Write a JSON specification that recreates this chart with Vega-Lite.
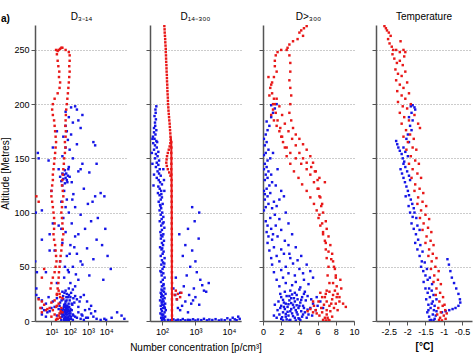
{
"$schema": "https://vega.github.io/schema/vega-lite/v6.json",
"padding": {"left": 0, "top": 12, "right": 2, "bottom": 2},
"bounds": "flush",
"spacing": 22,
"title": {"text": "a)", "anchor": "start", "frame": "bounds", "fontSize": 10, "fontWeight": "bold", "font": "Liberation Sans", "offset": -12},
"config": {
  "view": {"stroke": null},
  "font": "Liberation Sans",
  "axis": {"labelFont": "Liberation Sans", "titleFont": "Liberation Sans", "labelFontSize": 9, "titleFontSize": 10, "titleFontWeight": "normal", "domainColor": "#555", "domainWidth": 1.5, "tickColor": "#555", "tickSize": 4, "labelColor": "#000", "titleColor": "#000", "labelPadding": 2, "labelOverlap": false, "labelSeparation": 0, "gridDash": [1, 2], "gridColor": "#999"},
  "title": {"fontSize": 10, "fontWeight": "normal", "font": "Liberation Sans", "offset": 3},
  "square": {"size": 6, "opacity": 1, "filled": true}
},
"datasets": {
"b1": [{"x":50,"y":2},{"x":60,"y":4},{"x":45,"y":6},{"x":80,"y":3},{"x":70,"y":8},{"x":35,"y":1},{"x":100,"y":5},{"x":55,"y":10},{"x":65,"y":12},{"x":90,"y":7},{"x":120,"y":2},{"x":40,"y":9},{"x":75,"y":14},{"x":30,"y":3},{"x":110,"y":11},{"x":150,"y":6},{"x":200,"y":4},{"x":300,"y":8},{"x":500,"y":5},{"x":800,"y":3},{"x":1500,"y":7},{"x":3000,"y":2},{"x":40,"y":6},{"x":50,"y":15},{"x":60,"y":18},{"x":45,"y":20},{"x":80,"y":22},{"x":30,"y":17},{"x":70,"y":25},{"x":100,"y":19},{"x":130,"y":16},{"x":200,"y":23},{"x":20,"y":21},{"x":15,"y":13},{"x":10,"y":12},{"x":8,"y":9},{"x":5,"y":16},{"x":3,"y":19},{"x":2,"y":21},{"x":1.5,"y":24},{"x":25,"y":11},{"x":20,"y":5},{"x":60,"y":1},{"x":70,"y":2},{"x":90,"y":0.5},{"x":150,"y":1},{"x":250,"y":3},{"x":400,"y":2},{"x":600,"y":1},{"x":1000,"y":3},{"x":2000,"y":4},{"x":5000,"y":1},{"x":8000,"y":2},{"x":60,"y":7},{"x":85,"y":9},{"x":35,"y":10},{"x":95,"y":13},{"x":140,"y":15},{"x":180,"y":17},{"x":250,"y":20},{"x":400,"y":22},{"x":600,"y":24},{"x":900,"y":18},{"x":1500,"y":14},{"x":120,"y":26},{"x":60,"y":28},{"x":90,"y":30},{"x":40,"y":27},{"x":150,"y":29},{"x":200,"y":32},{"x":6,"y":8},{"x":4,"y":10},{"x":3,"y":12},{"x":3,"y":6},{"x":5,"y":4},{"x":10000,"y":1},{"x":20000,"y":3},{"x":40000,"y":8},{"x":70000,"y":5},{"x":100000,"y":2},{"x":55,"y":9},{"x":45,"y":11},{"x":55,"y":13},{"x":65,"y":14},{"x":65,"y":3},{"x":75,"y":6},{"x":85,"y":4},{"x":110,"y":7},{"x":130,"y":10},{"x":160,"y":5},{"x":48,"y":5},{"x":58,"y":8},{"x":68,"y":10},{"x":78,"y":12},{"x":52,"y":3},{"x":62,"y":6},{"x":72,"y":1},{"x":82,"y":10},{"x":42,"y":8},{"x":38,"y":4},{"x":95,"y":2},{"x":105,"y":9},{"x":58,"y":16},{"x":68,"y":19},{"x":48,"y":13},{"x":88,"y":16},{"x":78,"y":0.5},{"x":50,"y":0.5},{"x":115,"y":4},{"x":33,"y":7},{"x":28,"y":14},{"x":36,"y":19},{"x":44,"y":23},{"x":52,"y":26},{"x":66,"y":22},{"x":92,"y":24},{"x":300,"y":13},{"x":350,"y":18},{"x":700,"y":10},{"x":450,"y":6},{"x":1200,"y":11},{"x":2500,"y":9},{"x":12,"y":18},{"x":7,"y":22},{"x":110,"y":22},{"x":160,"y":21},
{"x":20,"y":35},{"x":300,"y":38},{"x":50,"y":40},{"x":1200,"y":42},{"x":5,"y":45},{"x":80,"y":47},{"x":150,"y":50},{"x":500,"y":52},{"x":30,"y":55},{"x":2000,"y":57},{"x":70,"y":60},{"x":250,"y":62},{"x":15,"y":65},{"x":900,"y":67},{"x":110,"y":70},{"x":40,"y":72},{"x":3000,"y":75},{"x":200,"y":78},{"x":8,"y":80},{"x":60,"y":82},{"x":700,"y":85},{"x":25,"y":88},{"x":130,"y":90},{"x":1500,"y":92},{"x":45,"y":95},{"x":400,"y":98},{"x":90,"y":100},{"x":3,"y":102},{"x":200,"y":105},{"x":1000,"y":108},{"x":35,"y":110},{"x":70,"y":112},{"x":2500,"y":115},{"x":160,"y":117},{"x":5000,"y":118},{"x":50,"y":120},{"x":600,"y":122},{"x":40,"y":125},{"x":55,"y":127},{"x":35,"y":129},{"x":70,"y":130},{"x":45,"y":131},{"x":60,"y":132},{"x":30,"y":133},{"x":80,"y":134},{"x":50,"y":135},{"x":65,"y":136},{"x":1200,"y":137},{"x":300,"y":138},{"x":25,"y":140},{"x":90,"y":142},{"x":500,"y":145},{"x":7,"y":148},{"x":150,"y":150},{"x":40,"y":152},{"x":1.8,"y":155},{"x":100,"y":158},{"x":60,"y":160},{"x":250,"y":163},{"x":2000,"y":165},{"x":80,"y":167},{"x":45,"y":170},{"x":120,"y":172},{"x":70,"y":175},{"x":400,"y":178},{"x":60,"y":180},{"x":150,"y":183},{"x":300,"y":185},{"x":90,"y":188},{"x":500,"y":190},{"x":60,"y":193},{"x":250,"y":195},{"x":120,"y":197},{"x":200,"y":198},{"x":2500,"y":162},{"x":3000,"y":145},{"x":9000,"y":85},{"x":12000,"y":60},{"x":18000,"y":48},{"x":7000,"y":38},{"x":8000,"y":115},{"x":1.5,"y":30},{"x":1.3,"y":55},{"x":3,"y":75},{"x":1.4,"y":100},{"x":2,"y":150},{"x":1.6,"y":45},{"x":12,"y":90},{"x":8,"y":65},{"x":10,"y":120},{"x":12,"y":160},{"x":20,"y":175},{"x":400,"y":140},{"x":1800,"y":110},{"x":3500,"y":95},{"x":6000,"y":70},{"x":400,"y":55},{"x":220,"y":43},{"x":300,"y":80},{"x":130,"y":128},{"x":100,"y":133},{"x":40,"y":136},{"x":55,"y":139},{"x":75,"y":128},{"x":85,"y":140},{"x":100,"y":62},{"x":180,"y":68},{"x":60,"y":105},{"x":140,"y":112},{"x":35,"y":85},{"x":90,"y":45},{"x":110,"y":35},{"x":55,"y":50}],
"r1": [{"x":18,"y":250},{"x":20,"y":246},{"x":22,"y":240},{"x":24,"y":235},{"x":27,"y":230},{"x":26,"y":225},{"x":30,"y":220},{"x":28,"y":215},{"x":22,"y":210},{"x":15,"y":205},{"x":12,"y":200},{"x":11,"y":195},{"x":12,"y":190},{"x":14,"y":185},{"x":15,"y":180},{"x":16,"y":175},{"x":17,"y":170},{"x":18,"y":165},{"x":17,"y":160},{"x":16,"y":155},{"x":15,"y":150},{"x":14,"y":145},{"x":13,"y":140},{"x":12,"y":135},{"x":12,"y":130},{"x":11,"y":125},{"x":10,"y":120},{"x":10,"y":115},{"x":11,"y":110},{"x":12,"y":105},{"x":13,"y":100},{"x":14,"y":95},{"x":15,"y":90},{"x":14,"y":85},{"x":13,"y":80},{"x":14,"y":75},{"x":16,"y":70},{"x":17,"y":65},{"x":18,"y":60},{"x":19,"y":55},{"x":17,"y":50},{"x":15,"y":45},{"x":12,"y":40},{"x":10,"y":35},{"x":9,"y":30},
{"x":40,"y":252},{"x":60,"y":250},{"x":90,"y":248},{"x":100,"y":245},{"x":100,"y":240},{"x":95,"y":235},{"x":100,"y":230},{"x":95,"y":225},{"x":90,"y":220},{"x":85,"y":215},{"x":80,"y":210},{"x":75,"y":205},{"x":70,"y":200},{"x":65,"y":195},{"x":62,"y":190},{"x":60,"y":185},{"x":58,"y":180},{"x":62,"y":175},{"x":60,"y":170},{"x":55,"y":165},{"x":58,"y":160},{"x":55,"y":155},{"x":50,"y":150},{"x":48,"y":145},{"x":45,"y":140},{"x":42,"y":135},{"x":40,"y":130},{"x":38,"y":125},{"x":42,"y":120},{"x":45,"y":115},{"x":40,"y":110},{"x":38,"y":105},{"x":35,"y":100},{"x":38,"y":95},{"x":40,"y":90},{"x":42,"y":85},{"x":45,"y":80},{"x":40,"y":75},{"x":38,"y":70},{"x":35,"y":65},{"x":32,"y":60},{"x":30,"y":55},{"x":28,"y":50},{"x":26,"y":45},{"x":25,"y":40},{"x":24,"y":35},{"x":22,"y":30},{"x":20,"y":25},{"x":25,"y":250},{"x":30,"y":251},{"x":35,"y":252},{"x":22,"y":249},
{"x":2,"y":20},{"x":3,"y":18},{"x":4,"y":15},{"x":2.5,"y":12},{"x":5,"y":10},{"x":3,"y":8},{"x":8,"y":12},{"x":12,"y":10},{"x":20,"y":14},{"x":15,"y":6},{"x":25,"y":5},{"x":30,"y":3},{"x":20,"y":2},{"x":40,"y":8},{"x":35,"y":12},{"x":25,"y":16},{"x":30,"y":22},{"x":28,"y":25},{"x":25,"y":28},{"x":10,"y":4},{"x":18,"y":1},{"x":22,"y":2},{"x":28,"y":7},{"x":32,"y":9},{"x":6,"y":11},{"x":18,"y":13},{"x":10,"y":17},{"x":15,"y":19},{"x":40,"y":21},{"x":20,"y":24},{"x":1.5,"y":115},{"x":2,"y":110},{"x":3,"y":40},{"x":4,"y":48}],
"b2": [{"x":100,"y":1},{"x":115,"y":2},{"x":95,"y":3},{"x":125,"y":4},{"x":105,"y":5},{"x":110,"y":6},{"x":90,"y":7},{"x":120,"y":8},{"x":100,"y":9},{"x":130,"y":10},{"x":95,"y":11},{"x":108,"y":12},{"x":118,"y":13},{"x":92,"y":14},{"x":102,"y":15},{"x":125,"y":16},{"x":98,"y":17},{"x":112,"y":18},{"x":88,"y":19},{"x":105,"y":20},{"x":120,"y":21},{"x":95,"y":22},{"x":110,"y":23},{"x":100,"y":24},{"x":128,"y":25},{"x":92,"y":26},{"x":115,"y":27},{"x":104,"y":28},{"x":97,"y":29},{"x":118,"y":30},{"x":100,"y":32},{"x":112,"y":34},{"x":94,"y":36},{"x":106,"y":38},{"x":120,"y":40},{"x":98,"y":42},{"x":110,"y":44},{"x":90,"y":46},{"x":104,"y":48},{"x":115,"y":50},{"x":96,"y":52},{"x":108,"y":54},{"x":100,"y":56},{"x":120,"y":58},{"x":92,"y":60},{"x":105,"y":62},{"x":112,"y":64},{"x":97,"y":66},{"x":88,"y":68},{"x":108,"y":70},{"x":100,"y":72},{"x":115,"y":74},{"x":93,"y":76},{"x":103,"y":78},{"x":110,"y":80},{"x":90,"y":82},{"x":100,"y":84},{"x":118,"y":86},{"x":95,"y":88},{"x":105,"y":90},{"x":86,"y":92},{"x":98,"y":94},{"x":110,"y":96},{"x":92,"y":98},{"x":102,"y":100},{"x":85,"y":102},{"x":95,"y":104},{"x":90,"y":106},{"x":105,"y":108},{"x":80,"y":110},{"x":92,"y":112},{"x":100,"y":114},{"x":85,"y":116},{"x":76,"y":118},{"x":95,"y":120},{"x":86,"y":122},{"x":78,"y":124},{"x":100,"y":126},{"x":88,"y":128},{"x":80,"y":130},{"x":70,"y":132},{"x":92,"y":134},{"x":82,"y":136},{"x":74,"y":138},{"x":86,"y":140},{"x":66,"y":142},{"x":78,"y":144},{"x":70,"y":146},{"x":82,"y":148},{"x":62,"y":150},{"x":74,"y":152},{"x":66,"y":154},{"x":78,"y":156},{"x":58,"y":158},{"x":70,"y":160},{"x":62,"y":162},{"x":55,"y":164},{"x":68,"y":166},{"x":60,"y":168},{"x":54,"y":170},{"x":64,"y":172},{"x":58,"y":174},{"x":68,"y":176},{"x":58,"y":178},{"x":63,"y":180},{"x":62,"y":183},{"x":66,"y":186},{"x":60,"y":189},{"x":65,"y":192},{"x":64,"y":195},{"x":68,"y":198},{"x":56,"y":125},{"x":58,"y":135},{"x":52,"y":145},{"x":50,"y":155},{"x":72,"y":165},{"x":52,"y":168},{"x":110,"y":140},{"x":115,"y":130},{"x":118,"y":120},{"x":108,"y":3},{"x":98,"y":6},{"x":122,"y":12},{"x":112,"y":15},{"x":102,"y":18},{"x":96,"y":25},{"x":110,"y":33},{"x":96,"y":45},{"x":118,"y":53},{"x":102,"y":67},{"x":94,"y":79},{"x":112,"y":91},{"x":88,"y":107},{"x":96,"y":117},
{"x":120,"y":0.5},{"x":150,"y":1},{"x":180,"y":0.8},{"x":220,"y":1.5},{"x":260,"y":0.5},{"x":300,"y":1.2},{"x":360,"y":0.7},{"x":420,"y":1.8},{"x":500,"y":0.6},{"x":600,"y":1.1},{"x":700,"y":0.9},{"x":850,"y":1.6},{"x":1000,"y":0.5},{"x":1200,"y":1.3},{"x":1500,"y":0.8},{"x":1800,"y":2},{"x":2200,"y":0.6},{"x":2600,"y":1.4},{"x":3200,"y":0.9},{"x":4000,"y":1.7},{"x":5000,"y":0.5},{"x":6000,"y":1.2},{"x":7500,"y":0.7},{"x":9000,"y":2.5},{"x":11000,"y":1},{"x":13000,"y":3},{"x":15000,"y":1.5},{"x":17000,"y":0.8},{"x":19000,"y":4},{"x":21000,"y":2},
{"x":800,"y":105},{"x":1300,"y":100},{"x":950,"y":92},{"x":600,"y":85},{"x":330,"y":80},{"x":1250,"y":76},{"x":500,"y":70},{"x":800,"y":65},{"x":420,"y":60},{"x":1000,"y":55},{"x":700,"y":50},{"x":1100,"y":45},{"x":550,"y":42},{"x":1400,"y":38},{"x":2500,"y":35},{"x":450,"y":32},{"x":900,"y":30},{"x":1800,"y":28},{"x":350,"y":26},{"x":650,"y":24},{"x":1000,"y":22},{"x":280,"y":20},{"x":500,"y":18},{"x":750,"y":16},{"x":400,"y":14},{"x":300,"y":12},{"x":250,"y":24},{"x":220,"y":30},{"x":260,"y":40},{"x":350,"y":10},{"x":1300,"y":15},{"x":600,"y":8},{"x":1600,"y":33},{"x":2100,"y":27},{"x":850,"y":19}],
"r2": [{"x":118,"y":272},{"x":120,"y":269},{"x":121,"y":266},{"x":123,"y":263},{"x":125,"y":260},{"x":126,"y":257},{"x":128,"y":254},{"x":130,"y":251},{"x":130,"y":248},{"x":132,"y":245},{"x":133,"y":242},{"x":134,"y":239},{"x":136,"y":236},{"x":137,"y":233},{"x":138,"y":230},{"x":140,"y":227},{"x":141,"y":224},{"x":142,"y":221},{"x":144,"y":218},{"x":145,"y":215},{"x":146,"y":212},{"x":148,"y":209},{"x":150,"y":206},{"x":151,"y":203},{"x":152,"y":200},{"x":155,"y":197},{"x":157,"y":194},{"x":160,"y":191},{"x":163,"y":188},{"x":166,"y":185},{"x":170,"y":182},{"x":172,"y":179},{"x":175,"y":176},{"x":178,"y":173},{"x":180,"y":170},{"x":182,"y":167},{"x":178,"y":164},{"x":170,"y":161},{"x":160,"y":158},{"x":150,"y":155},{"x":142,"y":152},{"x":138,"y":149},{"x":135,"y":146},{"x":140,"y":143},{"x":150,"y":140},{"x":165,"y":137},{"x":180,"y":134},
{"x":190,"y":165},{"x":192,"y":160},{"x":190,"y":155},{"x":193,"y":150},{"x":191,"y":145},{"x":190,"y":140},{"x":192,"y":135},{"x":194,"y":130},{"x":193,"y":125},{"x":195,"y":120},{"x":194,"y":115},{"x":196,"y":110},{"x":195,"y":105},{"x":196,"y":100},{"x":197,"y":95},{"x":196,"y":90},{"x":197,"y":85},{"x":198,"y":80},{"x":197,"y":75},{"x":198,"y":70},{"x":198,"y":65},{"x":197,"y":60},{"x":199,"y":55},{"x":198,"y":50},{"x":199,"y":45},{"x":198,"y":40},{"x":200,"y":35},{"x":199,"y":30},{"x":200,"y":25},{"x":199,"y":20},{"x":200,"y":15},{"x":199,"y":10},{"x":200,"y":5},{"x":200,"y":0},{"x":260,"y":28},{"x":300,"y":25},{"x":350,"y":22},{"x":380,"y":26},{"x":240,"y":24},{"x":280,"y":20}],
"r2l": [{"x":200,"y":0},{"x":199,"y":30},{"x":197,"y":60},{"x":196,"y":100},{"x":194,"y":130},{"x":190,"y":165},{"x":182,"y":170}],
"b3": [{"x":2,"y":2},{"x":2.5,"y":4},{"x":3,"y":1},{"x":3.5,"y":3},{"x":4,"y":2},{"x":1.8,"y":6},{"x":2.2,"y":8},{"x":2.8,"y":5},{"x":3.2,"y":7},{"x":3.8,"y":6},{"x":4.3,"y":4},{"x":4.8,"y":3},{"x":1.6,"y":10},{"x":2.4,"y":11},{"x":3,"y":9},{"x":3.6,"y":10},{"x":4.2,"y":9},{"x":4.6,"y":8},{"x":5,"y":6},{"x":5.4,"y":5},{"x":2,"y":14},{"x":2.7,"y":13},{"x":3.3,"y":15},{"x":3.9,"y":12},{"x":4.4,"y":14},{"x":5.2,"y":12},{"x":5.8,"y":10},{"x":1.7,"y":18},{"x":2.3,"y":17},{"x":2.9,"y":19},{"x":3.5,"y":18},{"x":4.1,"y":17},{"x":4.7,"y":19},{"x":5.5,"y":16},{"x":6,"y":14},{"x":2,"y":22},{"x":2.6,"y":23},{"x":3.1,"y":21},{"x":3.7,"y":24},{"x":4.3,"y":22},{"x":4.9,"y":23},{"x":2.4,"y":27},{"x":3,"y":28},{"x":3.5,"y":26},{"x":4,"y":29},{"x":4.6,"y":27},{"x":1.9,"y":25},{"x":2.2,"y":0.5},{"x":2.9,"y":0.5},{"x":3.6,"y":0.5},{"x":4.1,"y":0.8},{"x":1.5,"y":3},{"x":2.1,"y":3.5},{"x":3.4,"y":12.5},{"x":2.5,"y":16},{"x":3.8,"y":20},{"x":4.5,"y":25},{"x":5.3,"y":20},{"x":6.3,"y":18},{"x":6.6,"y":12},{"x":5.9,"y":22},{"x":1.3,"y":15},{"x":1.2,"y":5},{"x":4.9,"y":10.5},{"x":3.2,"y":24.5},{"x":2.7,"y":8.5},{"x":3.9,"y":2.5},{"x":4.5,"y":12},{"x":3.1,"y":16.5},{"x":2.2,"y":19.5},{"x":2.6,"y":1.5},{"x":3.3,"y":4.5},{"x":1.9,"y":12},{"x":2.5,"y":6.5},{"x":4.4,"y":6},{"x":3.7,"y":14.5},{"x":3.1,"y":11},{"x":2.8,"y":15.5},{"x":3.4,"y":21},{"x":4,"y":14},{"x":4.2,"y":19.5},{"x":2.3,"y":13},{"x":3.7,"y":8},{"x":2.9,"y":23},
{"x":1.8,"y":32},{"x":2.5,"y":35},{"x":3.2,"y":33},{"x":4.1,"y":31},{"x":5,"y":34},{"x":1.5,"y":38},{"x":2.2,"y":40},{"x":3.5,"y":42},{"x":4.5,"y":38},{"x":5.5,"y":40},{"x":1.2,"y":45},{"x":2,"y":47},{"x":2.8,"y":44},{"x":4,"y":48},{"x":1,"y":52},{"x":1.8,"y":55},{"x":2.5,"y":50},{"x":3.3,"y":53},{"x":4.8,"y":52},{"x":0.9,"y":58},{"x":1.5,"y":60},{"x":2.3,"y":62},{"x":3,"y":58},{"x":4.2,"y":60},{"x":0.7,"y":65},{"x":1.2,"y":68},{"x":2,"y":66},{"x":2.8,"y":70},{"x":3.6,"y":68},{"x":0.5,"y":72},{"x":1,"y":75},{"x":1.6,"y":78},{"x":2.4,"y":74},{"x":3.2,"y":80},{"x":0.4,"y":82},{"x":0.9,"y":85},{"x":1.4,"y":88},{"x":2,"y":84},{"x":2.8,"y":90},{"x":0.3,"y":92},{"x":0.8,"y":95},{"x":1.3,"y":98},{"x":1.8,"y":94},{"x":2.5,"y":100},{"x":0.5,"y":88},{"x":1.1,"y":80},{"x":0.6,"y":78},{"x":2.9,"y":62},{"x":3.8,"y":56},{"x":5.2,"y":46},{"x":4.4,"y":44},{"x":3.6,"y":36},
{"x":0.1,"y":102},{"x":0.3,"y":105},{"x":0.6,"y":108},{"x":1,"y":104},{"x":1.5,"y":106},{"x":0.2,"y":112},{"x":0.5,"y":115},{"x":0.8,"y":118},{"x":1.2,"y":110},{"x":1.8,"y":112},{"x":0.1,"y":120},{"x":0.4,"y":122},{"x":0.7,"y":125},{"x":1,"y":128},{"x":0.2,"y":130},{"x":0.5,"y":132},{"x":0.3,"y":135},{"x":0.6,"y":138},{"x":0.1,"y":140},{"x":0.4,"y":142},{"x":0.2,"y":145},{"x":0.5,"y":148},{"x":0.8,"y":150},{"x":0.1,"y":153},{"x":0.3,"y":155},{"x":0.6,"y":158},{"x":0.2,"y":162},{"x":0.4,"y":165},{"x":0.1,"y":168},{"x":0.3,"y":172},{"x":0.5,"y":176},{"x":0.7,"y":180},{"x":0.4,"y":184},{"x":0.9,"y":188},{"x":1.1,"y":192},{"x":1.3,"y":196},{"x":1.5,"y":200},{"x":0.9,"y":199},{"x":0.2,"y":117},{"x":0.9,"y":135},{"x":1.4,"y":125},{"x":2,"y":120},{"x":2.3,"y":115},{"x":1.6,"y":140},{"x":1.1,"y":155}],
"r3": [{"x":4.8,"y":272},{"x":4.5,"y":270},{"x":4.2,"y":268},{"x":4,"y":266},{"x":4.4,"y":263},{"x":3.8,"y":260},{"x":3.3,"y":258},{"x":2.9,"y":255},{"x":2.7,"y":252},{"x":2.6,"y":250},{"x":2,"y":250},{"x":1.6,"y":248},{"x":1.4,"y":245},{"x":1.3,"y":240},{"x":1.3,"y":235},{"x":1.5,"y":230},{"x":1.2,"y":225},{"x":1,"y":220},{"x":0.8,"y":215},{"x":1,"y":210},{"x":1.2,"y":205},{"x":1.3,"y":200},{"x":1.1,"y":195},{"x":0.9,"y":190},{"x":1.2,"y":185},{"x":1.5,"y":180},{"x":1.8,"y":175},{"x":2,"y":170},{"x":2.2,"y":165},{"x":2.6,"y":160},{"x":3,"y":155},{"x":3.6,"y":150},{"x":4.2,"y":145},{"x":4.8,"y":140},{"x":5.2,"y":135},{"x":5.6,"y":128},{"x":6,"y":122},{"x":6.2,"y":115},{"x":6.5,"y":108},{"x":6.6,"y":100},{"x":6.9,"y":92},{"x":7,"y":85},{"x":7.2,"y":78},{"x":7.4,"y":70},{"x":7.6,"y":62},{"x":7.7,"y":55},{"x":7.9,"y":48},{"x":8,"y":40},{"x":8.1,"y":32},{"x":8.2,"y":25},{"x":8.4,"y":18},
{"x":2.9,"y":245},{"x":3,"y":238},{"x":3,"y":230},{"x":2.9,"y":222},{"x":3,"y":215},{"x":3.1,"y":208},{"x":3,"y":200},{"x":2.9,"y":192},{"x":3.1,"y":185},{"x":3.3,"y":178},{"x":3.6,"y":172},{"x":4,"y":168},{"x":4.4,"y":163},{"x":4.8,"y":158},{"x":5.2,"y":152},{"x":5.5,"y":146},{"x":5.8,"y":138},{"x":6,"y":130},{"x":6.1,"y":122},{"x":6.3,"y":114},{"x":6.4,"y":106},{"x":6.2,"y":98},{"x":6.5,"y":90},{"x":6.6,"y":82},{"x":6.8,"y":74},{"x":6.9,"y":66},{"x":7,"y":58},{"x":7.2,"y":50},{"x":7.1,"y":42},{"x":7.3,"y":35},{"x":7,"y":28},{"x":6.8,"y":22},
{"x":1.5,"y":205},{"x":1.8,"y":198},{"x":2.1,"y":190},{"x":2.4,"y":182},{"x":2.8,"y":175},{"x":3.2,"y":168},{"x":3.6,"y":162},{"x":4,"y":155},{"x":4.4,"y":150},{"x":4.8,"y":146},{"x":5.3,"y":142},{"x":5.7,"y":138},{"x":6.2,"y":132},{"x":6.8,"y":128},
{"x":0.6,"y":225},{"x":0.9,"y":218},{"x":0.7,"y":208},{"x":1.1,"y":200},{"x":1.4,"y":192},{"x":1.6,"y":185},{"x":1.9,"y":178},{"x":2.1,"y":170},{"x":2.4,"y":160},{"x":2.6,"y":152},{"x":3,"y":145},{"x":3.4,"y":138},{"x":3.9,"y":132},{"x":4.3,"y":126},{"x":4.8,"y":120},{"x":5.2,"y":114},{"x":5.6,"y":108},{"x":5.9,"y":102},{"x":6.1,"y":95},{"x":6.3,"y":88},{"x":6.6,"y":80},{"x":6.9,"y":72},{"x":7.2,"y":64},{"x":7.5,"y":57},{"x":7.8,"y":50},{"x":8,"y":42},{"x":7.7,"y":35},{"x":7.9,"y":28},
{"x":8.5,"y":38},{"x":8.6,"y":30},{"x":8.4,"y":22},{"x":8.8,"y":16},{"x":9.1,"y":13},
{"x":6.2,"y":5},{"x":6.5,"y":8},{"x":6.8,"y":3},{"x":7,"y":6},{"x":7.2,"y":1},{"x":7.4,"y":9},{"x":7.6,"y":4},{"x":7.8,"y":12},{"x":6.4,"y":12},{"x":6.7,"y":15},{"x":7,"y":18},{"x":7.3,"y":14},{"x":7.6,"y":20},{"x":8,"y":16},{"x":8.2,"y":10},{"x":6.1,"y":18},{"x":6.5,"y":22},{"x":6.9,"y":25},{"x":7.3,"y":27},{"x":7.7,"y":24},{"x":8.1,"y":22},{"x":5.8,"y":10},{"x":5.6,"y":14},{"x":5.9,"y":7},{"x":7,"y":10},{"x":7.1,"y":3},{"x":6.9,"y":0.5},{"x":7.3,"y":0.5},{"x":6.6,"y":1},{"x":7.5,"y":16},{"x":6.3,"y":26},{"x":5.5,"y":8},{"x":5.2,"y":11},{"x":4.9,"y":9},{"x":5.5,"y":18}],
"b4": [{"x":-1.9,"y":198},{"x":-1.85,"y":199},{"x":-1.8,"y":197},{"x":-1.78,"y":195},{"x":-1.88,"y":192},{"x":-1.95,"y":188},{"x":-1.85,"y":185},{"x":-1.92,"y":180},{"x":-1.88,"y":176},{"x":-1.98,"y":172},{"x":-2.02,"y":168},{"x":-1.95,"y":165},{"x":-2.3,"y":166},{"x":-2.27,"y":163},{"x":-2.24,"y":160},{"x":-2.2,"y":157},{"x":-2.15,"y":154},{"x":-2.12,"y":150},{"x":-2.08,"y":147},{"x":-2.1,"y":160},{"x":-2.05,"y":156},{"x":-1.98,"y":152},{"x":-2.18,"y":140},{"x":-2.14,"y":136},{"x":-2.1,"y":132},{"x":-2.06,"y":128},{"x":-2.02,"y":124},{"x":-2,"y":138},{"x":-1.95,"y":134},{"x":-1.92,"y":130},{"x":-2.1,"y":145},{"x":-2.05,"y":142},{"x":-1.98,"y":120},{"x":-1.95,"y":116},{"x":-1.9,"y":112},{"x":-1.86,"y":108},{"x":-1.82,"y":104},{"x":-2.04,"y":115},{"x":-1.96,"y":106},{"x":-1.92,"y":100},{"x":-1.85,"y":96},{"x":-1.8,"y":100},{"x":-1.75,"y":95},{"x":-1.88,"y":90},{"x":-1.82,"y":85},{"x":-1.76,"y":80},{"x":-1.7,"y":75},{"x":-1.72,"y":88},{"x":-1.66,"y":84},{"x":-1.78,"y":72},{"x":-1.72,"y":66},{"x":-1.66,"y":60},{"x":-1.6,"y":55},{"x":-1.64,"y":70},{"x":-1.58,"y":64},{"x":-1.62,"y":50},{"x":-1.56,"y":46},{"x":-1.5,"y":42},{"x":-1.44,"y":38},{"x":-1.52,"y":54},{"x":-1.46,"y":48},{"x":-1.55,"y":36},{"x":-1.5,"y":30},{"x":-1.44,"y":26},{"x":-1.38,"y":22},{"x":-1.48,"y":20},{"x":-1.42,"y":15},{"x":-1.36,"y":12},{"x":-1.3,"y":18},{"x":-1.25,"y":14},{"x":-1.45,"y":8},{"x":-1.4,"y":4},{"x":-1.35,"y":1},{"x":-1.3,"y":6},{"x":-1.25,"y":2},{"x":-1.2,"y":9},{"x":-1.22,"y":5},{"x":-1.38,"y":0.5},{"x":-1.28,"y":0.5},{"x":-1.33,"y":28},{"x":-1.28,"y":24},{"x":-1.2,"y":20},{"x":-1.32,"y":34},{"x":-1.38,"y":40},{"x":-1.42,"y":10},{"x":-1.33,"y":16},{"x":-1.27,"y":10},{"x":-1.4,"y":30},
{"x":-0.9,"y":57},{"x":-0.86,"y":52},{"x":-0.82,"y":46},{"x":-0.78,"y":40},{"x":-0.72,"y":35},{"x":-0.66,"y":30},{"x":-0.6,"y":25},{"x":-0.56,"y":20},{"x":-0.55,"y":17},{"x":-0.6,"y":14},{"x":-0.68,"y":12},{"x":-0.76,"y":11},{"x":-0.85,"y":10},{"x":-0.95,"y":9},{"x":-1.05,"y":8}],
"r4": [{"x":-2.62,"y":272},{"x":-2.58,"y":270},{"x":-2.55,"y":268},{"x":-2.5,"y":266},{"x":-2.45,"y":263},{"x":-2.52,"y":260},{"x":-2.48,"y":256},{"x":-2.42,"y":253},{"x":-2.38,"y":250},{"x":-2.3,"y":250},{"x":-2.2,"y":248},{"x":-2.1,"y":250},{"x":-2.05,"y":248},{"x":-2.08,"y":244},{"x":-2.18,"y":258},{"x":-2.4,"y":246},{"x":-2.35,"y":242},{"x":-2.28,"y":238},{"x":-2.2,"y":240},{"x":-2.12,"y":236},{"x":-2.32,"y":232},{"x":-2.25,"y":228},{"x":-2.15,"y":226},{"x":-2.05,"y":230},{"x":-2.3,"y":222},{"x":-2.2,"y":218},{"x":-2.1,"y":215},{"x":-2,"y":220},{"x":-2.27,"y":212},{"x":-2.15,"y":208},{"x":-2.05,"y":205},{"x":-1.95,"y":210},{"x":-2.25,"y":202},{"x":-2.12,"y":198},{"x":-2,"y":196},{"x":-1.9,"y":200},{"x":-2.2,"y":192},{"x":-2.08,"y":188},{"x":-1.95,"y":185},{"x":-1.8,"y":190},{"x":-1.7,"y":182},{"x":-1.65,"y":178},{"x":-2.15,"y":182},{"x":-2.03,"y":176},{"x":-1.92,"y":172},{"x":-1.82,"y":168},{"x":-2.1,"y":170},{"x":-1.98,"y":165},{"x":-1.85,"y":160},{"x":-1.75,"y":158},{"x":-2.02,"y":158},{"x":-1.9,"y":152},{"x":-1.78,"y":148},{"x":-1.68,"y":145},{"x":-1.95,"y":145},{"x":-1.85,"y":140},{"x":-1.72,"y":136},{"x":-1.62,"y":132},{"x":-1.88,"y":132},{"x":-1.78,"y":126},{"x":-1.66,"y":122},{"x":-1.56,"y":118},{"x":-1.8,"y":120},{"x":-1.7,"y":114},{"x":-1.58,"y":110},{"x":-1.48,"y":106},{"x":-1.72,"y":108},{"x":-1.62,"y":102},{"x":-1.5,"y":98},{"x":-1.4,"y":94},{"x":-1.65,"y":95},{"x":-1.55,"y":90},{"x":-1.43,"y":86},{"x":-1.34,"y":82},{"x":-1.58,"y":84},{"x":-1.47,"y":78},{"x":-1.36,"y":74},{"x":-1.28,"y":70},{"x":-1.5,"y":72},{"x":-1.4,"y":66},{"x":-1.3,"y":62},{"x":-1.2,"y":58},{"x":-1.42,"y":60},{"x":-1.33,"y":55},{"x":-1.23,"y":50},{"x":-1.14,"y":46},{"x":-1.35,"y":48},{"x":-1.26,"y":42},{"x":-1.16,"y":38},{"x":-1.08,"y":34},{"x":-1.28,"y":36},{"x":-1.2,"y":30},{"x":-1.1,"y":26},{"x":-1.02,"y":22},{"x":-1.22,"y":24},{"x":-1.12,"y":18},{"x":-1.03,"y":14},{"x":-0.96,"y":10},{"x":-1.15,"y":12},{"x":-1.08,"y":8},{"x":-1,"y":5},{"x":-0.95,"y":2},{"x":-1.1,"y":3},{"x":-1.05,"y":0.5},{"x":-0.98,"y":15},{"x":-0.92,"y":7},{"x":-1.18,"y":6},{"x":-1.13,"y":1}]
},
"hconcat": [
{
  "width": 93, "height": 296,
  "title": "D₃₋₁₄",
  "encoding": {
    "x": {"field": "x", "type": "quantitative", "scale": {"type": "log", "domain": [1.26, 158000]}, "axis": {"values": [10, 100, 1000, 10000], "labelOverlap": false, "labelExpr": "datum.value == 10 ? '10¹' : datum.value == 100 ? '10²' : datum.value == 1000 ? '10³' : '10⁴'", "grid": false, "title": null}},
    "y": {"field": "y", "type": "quantitative", "scale": {"domain": [0, 273], "nice": false}, "axis": {"values": [0, 50, 100, 150, 200, 250], "labelOverlap": false, "grid": true, "title": "Altitude [Metres]", "titlePadding": 3}}
  },
  "layer": [
    {"data": {"name": "b1"}, "mark": {"type": "square", "color": "#1414e6", "clip": true}},
    {"data": {"name": "r1"}, "mark": {"type": "square", "color": "#e81818", "clip": true}}
  ]
},
{
  "width": 91, "height": 296,
  "title": "D₁₄₋₃₀₀",
  "encoding": {
    "x": {"field": "x", "type": "quantitative", "scale": {"type": "log", "domain": [44, 23000]}, "axis": {"values": [100, 1000, 10000], "labelOverlap": false, "labelExpr": "datum.value == 100 ? '10²' : datum.value == 1000 ? '10³' : '10⁴'", "grid": false, "title": "Number concentration [p/cm³]", "titlePadding": 6}},
    "y": {"field": "y", "type": "quantitative", "scale": {"domain": [0, 273], "nice": false}, "axis": {"values": [0, 50, 100, 150, 200, 250], "grid": true, "labels": false, "title": null}}
  },
  "layer": [
    {"data": {"name": "b2"}, "mark": {"type": "square", "color": "#1414e6", "clip": true}},
    {"data": {"name": "r2l"}, "mark": {"type": "line", "color": "#e81818", "strokeWidth": 2, "clip": true}, "encoding": {"order": {"field": "y"}}},
    {"data": {"name": "r2"}, "mark": {"type": "square", "color": "#e81818", "clip": true}}
  ]
},
{
  "width": 91, "height": 296,
  "title": "D>₃₀₀",
  "encoding": {
    "x": {"field": "x", "type": "quantitative", "scale": {"domain": [0, 10], "nice": false}, "axis": {"values": [0, 2, 4, 6, 8, 10], "labelOverlap": false, "labelFlush": false, "labelExpr": "'' + datum.value", "grid": false, "title": null}},
    "y": {"field": "y", "type": "quantitative", "scale": {"domain": [0, 273], "nice": false}, "axis": {"values": [0, 50, 100, 150, 200, 250], "grid": true, "labels": false, "title": null}}
  },
  "layer": [
    {"data": {"name": "b3"}, "mark": {"type": "square", "color": "#1414e6", "clip": true}},
    {"data": {"name": "r3"}, "mark": {"type": "square", "color": "#e81818", "clip": true}}
  ]
},
{
  "width": 96, "height": 296,
  "title": "Temperature",
  "encoding": {
    "x": {"field": "x", "type": "quantitative", "scale": {"domain": [-2.85, -0.23], "nice": false, "zero": false}, "axis": {"values": [-2.5, -2, -1.5, -1, -0.5], "labelOverlap": false, "labelFlush": false, "labelExpr": "'' + datum.value", "grid": false, "title": "[°C]", "titleFontWeight": "bold", "titlePadding": 5}},
    "y": {"field": "y", "type": "quantitative", "scale": {"domain": [0, 273], "nice": false}, "axis": {"values": [0, 50, 100, 150, 200, 250], "grid": true, "labels": false, "title": null}}
  },
  "layer": [
    {"data": {"name": "b4"}, "mark": {"type": "square", "color": "#1414e6", "clip": true}},
    {"data": {"name": "r4"}, "mark": {"type": "square", "color": "#e81818", "clip": true}}
  ]
}
]
}
